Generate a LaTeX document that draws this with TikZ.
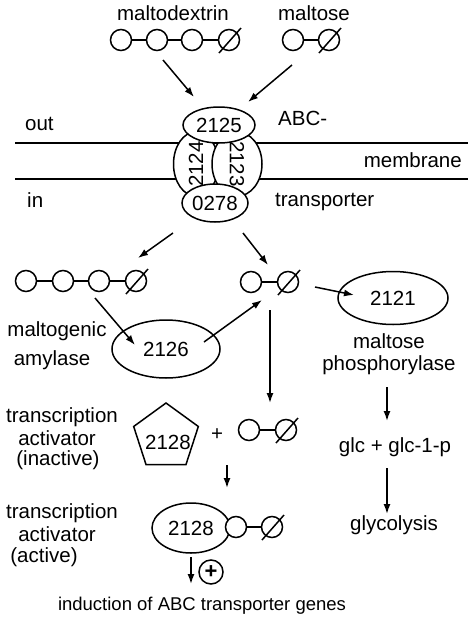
\documentclass[tikz,border=0pt]{standalone}
\usepackage{fontspec}
\setmainfont{Liberation Sans}
\usetikzlibrary{shapes.geometric,arrows.meta}
\newcommand{\slashit}[1]{\draw[slashline] ([shift={(-10,13)}]#1.center) -- ([shift={(12,-12)}]#1.center);}
\begin{document}
\begin{tikzpicture}[x=1pt,y=-1pt,
  txt/.style={font=\fontsize{20.5}{22}\selectfont,inner sep=0pt},
  sug/.style={circle,draw,line width=1.5pt,fill=white,minimum size=21pt,inner sep=0pt},
  enz/.style={ellipse,draw,line width=1.5pt,fill=white,inner sep=0pt,font=\fontsize{20.5}{22}\selectfont},
  arr/.style={line width=1.5pt,-{Latex[length=10pt,width=7pt]}},
  bond/.style={line width=1.5pt},
  slashline/.style={line width=1.5pt},
  memb/.style={line width=2pt}
]
\useasboundingbox (0,0) rectangle (474,619);
\fill[white] (0,0) rectangle (474,619);

% labels
\node[txt,anchor=base] (lmd) at (173,20) {maltodextrin};
\node[txt,anchor=base] (lms) at (314,20) {maltose};
\node[txt,anchor=base west] (lout) at (25,130) {out};
\node[txt,anchor=base west] (labc) at (278,125) {ABC-};
\node[txt,anchor=base east] (lmem) at (462,167) {membrane};
\node[txt,anchor=base west] (lin) at (27,207) {in};
\node[txt,anchor=base west] (ltr) at (275,206) {transporter};
\node[txt,anchor=base] (lmg1) at (57,336) {maltogenic};
\node[txt,anchor=base] (lmg2) at (52,365) {amylase};
\node[txt,anchor=base] (lmp1) at (389,348) {maltose};
\node[txt,anchor=base] (lmp2) at (389,370) {phosphorylase};
\node[txt,anchor=base] (lti1) at (62,422) {transcription};
\node[txt,anchor=base] (lti2) at (57,445) {activator};
\node[txt,anchor=base] (lti3) at (58,465) {(inactive)};
\node[txt,anchor=base] (lta1) at (62,518) {transcription};
\node[txt,anchor=base] (lta2) at (57,541) {activator};
\node[txt,anchor=base] (lta3) at (44,562) {(active)};
\node[txt,anchor=base] (lglc) at (395,452) {glc + glc-1-p};
\node[txt,anchor=base] (lgly) at (394,530) {glycolysis};
\node[txt,anchor=base,font=\fontsize{18.5}{20}\selectfont] (lind) at (202,610) {induction of ABC transporter genes};
\node[txt,anchor=base] (lplus) at (217,440) {+};

% top maltodextrin chain
\node[sug] (md1) at (121,40) {};
\node[sug] (md2) at (157,40) {};
\node[sug] (md3) at (192,40) {};
\node[sug] (md4) at (229,40) {};
\draw[bond] (md1) -- (md2) (md2) -- (md3) (md3) -- (md4);
\slashit{md4}
% top maltose
\node[sug] (ms1) at (293,40) {};
\node[sug] (ms2) at (329,40) {};
\draw[bond] (ms1) -- (ms2);
\slashit{ms2}

% membrane
\coordinate (m1l) at (15,143); \coordinate (m1r) at (468,143);
\coordinate (m2l) at (15,179); \coordinate (m2r) at (468,179);
\draw[memb] (m1l) -- (m1r);
\draw[memb] (m2l) -- (m2r);

% transporter
\node[enz,rotate=90,minimum width=53pt,minimum height=45pt] (t2124) at (196,164) {2124};
\node[enz,rotate=-90,minimum width=50pt,minimum height=50pt] (t2123) at (237,164) {2123};
\node[enz,minimum width=72pt,minimum height=36pt] (t2125) at (219,125) {2125};
\node[enz,minimum width=66pt,minimum height=38pt] (t0278) at (215,203) {0278};

% arrows into transporter
\coordinate (a1s) at (163,60); \coordinate (a1e) at (194,97);
\coordinate (a2s) at (292,65); \coordinate (a2e) at (248,102);
\draw[arr] (a1s) -- (a1e);
\draw[arr] (a2s) -- (a2e);

% arrows out of transporter
\coordinate (a3s) at (173,233); \coordinate (a3e) at (138,258);
\coordinate (a4s) at (243,233); \coordinate (a4e) at (268,265);
\draw[arr] (a3s) -- (a3e);
\draw[arr] (a4s) -- (a4e);

% lower-left maltodextrin
\node[sug] (lm1) at (26,281) {};
\node[sug] (lm2) at (63,281) {};
\node[sug] (lm3) at (99,281) {};
\node[sug] (lm4) at (136,281) {};
\draw[bond] (lm1) -- (lm2) (lm2) -- (lm3) (lm3) -- (lm4);
\slashit{lm4}
% middle maltose
\node[sug] (mm1) at (251,282) {};
\node[sug] (mm2) at (288,282) {};
\draw[bond] (mm1) -- (mm2);
\slashit{mm2}

% enzymes
\node[enz,minimum width=108pt,minimum height=58pt] (e2126) at (166,349) {2126};
\node[enz,minimum width=110pt,minimum height=53pt] (e2121) at (393,298) {2121};

\coordinate (a5s) at (95,298); \coordinate (a5e) at (135,345);
\coordinate (a6s) at (204,342); \coordinate (a6e) at (262,300);
\coordinate (a7s) at (315,287); \coordinate (a7e) at (354,295);
\coordinate (a8s) at (270,310); \coordinate (a8e) at (270,403);
\draw[arr] (a5s) -- (a5e);
\draw[arr] (a6s) -- (a6e);
\draw[arr] (a7s) -- (a7e);
\draw[arr] (a8s) -- (a8e);

% inactive activator
\node[regular polygon,regular polygon sides=5,draw,line width=1.5pt,minimum size=68pt,inner sep=0pt] (p2128) at (166,437) {};
\node[txt] (p2128t) at (168,442) {2128};
\node[sug] (pm1) at (249,430) {};
\node[sug] (pm2) at (286,430) {};
\draw[bond] (pm1) -- (pm2);
\slashit{pm2}

\coordinate (a9s) at (227,465); \coordinate (a9e) at (227,488);
\draw[arr] (a9s) -- (a9e);

% active activator
\node[enz,minimum width=78pt,minimum height=50pt] (e2128) at (191,528) {2128};
\node[sug] (ac1) at (236,527) {};
\node[sug] (ac2) at (272,527) {};
\draw[bond] (ac1) -- (ac2);
\slashit{ac2}

\coordinate (a10s) at (191,557); \coordinate (a10e) at (191,584);
\draw[arr] (a10s) -- (a10e);
\node[circle,draw,line width=1.5pt,minimum size=24pt,inner sep=0pt,font=\fontsize{22}{22}\selectfont\bfseries] (pl) at (211,572) {+};

% right column
\coordinate (a11s) at (387,387); \coordinate (a11e) at (387,421);
\coordinate (a12s) at (387,468); \coordinate (a12e) at (387,514);
\draw[arr] (a11s) -- (a11e);
\draw[arr] (a12s) -- (a12e);
\end{tikzpicture}
\end{document}
